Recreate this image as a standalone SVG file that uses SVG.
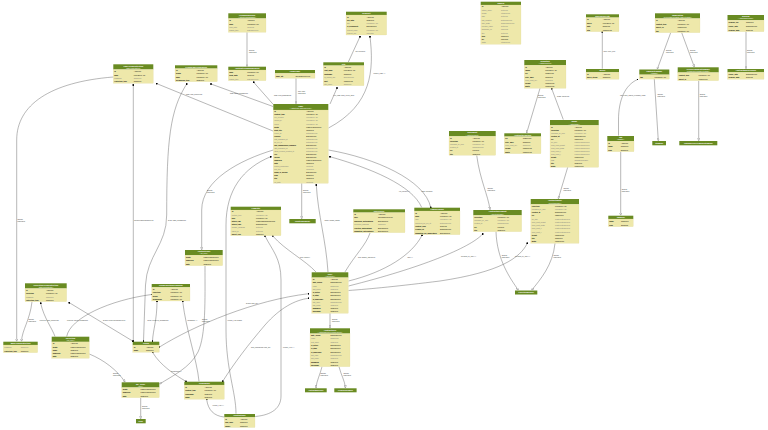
<svg xmlns="http://www.w3.org/2000/svg" width="768" height="430" viewBox="0 0 768 430">
<defs>
<style>
text{font-family:"Liberation Sans",Arial,sans-serif}
.hd{fill:#698b22}
.bd{fill:#eee8aa;stroke:#ddd59a;stroke-width:0.2}
.ht{font-size:2px;fill:#fff;font-weight:bold;text-anchor:middle}
.hs{font-size:1.45px;fill:#fff;text-anchor:middle}
.c{font-size:1.7px;fill:#000}
.b{font-weight:bold}
.g{fill:#7b7b7b}
.e{fill:none;stroke:#555;stroke-width:0.42}
.lb{font-size:1.55px;fill:#333}
</style>
<marker id="dot" viewBox="0 0 4 4" refX="2" refY="2" markerWidth="1.9" markerHeight="1.9" markerUnits="userSpaceOnUse"><circle cx="2" cy="2" r="2" fill="#000"/></marker>
<marker id="arr" viewBox="0 0 10 10" refX="9.5" refY="5" markerWidth="2.6" markerHeight="2.6" markerUnits="userSpaceOnUse" orient="auto"><path d="M0.5,0.8 L9.5,5 L0.5,9.2 z" fill="#fff" stroke="#555" stroke-width="1.2"/></marker>
</defs>
<rect width="768" height="430" fill="#fff"/>

<g id="connectors">
<path class="e" d="M247,32.3 L247,66.4" marker-end="url(#arr)"/>
<text class="lb" x="249" y="50.5">abstract<tspan x="249" dy="2.1">inheritance</tspan></text>
<path class="e" d="M156.7,83.6 L273,131" marker-start="url(#dot)"/>
<text class="lb" x="186" y="95.2">page (view_restrictions)</text>
<path class="e" d="M211,84 L273,106.5" marker-start="url(#dot)"/>
<text class="lb" x="230" y="93.6">page (group_permissions)</text>
<path class="e" d="M253.7,82.3 L273.3,104.5" marker-start="url(#dot)"/>
<text class="lb" x="274" y="95.8">page (form_submissions)</text>
<path class="e" d="M296,78.3 L296,103.6" marker-end="url(#arr)"/>
<text class="lb" x="298" y="91.5">multi-table<tspan x="298" dy="2.1">inheritance</tspan></text>
<path class="e" d="M337,88 L330,104" marker-start="url(#dot)"/>
<text class="lb" x="333.5" y="96.2">root_page (sites_rooted_here)</text>
<path class="e" d="M360,36.7 L348.3,62" marker-start="url(#dot)"/>
<text class="lb" x="355.5" y="51.5">site (redirects)</text>
<path class="e" d="M370,36.7 C374,70 372,105 328.5,128" marker-start="url(#dot)"/>
<text class="lb" x="373.5" y="74">redirect_page (+)</text>
<path class="e" d="M113.3,77 C50,82 16.7,105 16.7,140 L16.7,341.3" marker-end="url(#arr)"/>
<text class="lb" x="17.5" y="219.5">abstract<tspan x="17.5" dy="2.1">inheritance</tspan></text>
<path class="e" d="M133.3,85 L133.3,341.2" marker-start="url(#dot)" marker-end="url(#dot)"/>
<text class="lb" x="134.2" y="220.5">groups (pageviewrestriction)</text>
<path class="e" d="M186.7,84 C170,110 166.7,140 166.7,215 C166.7,245 147,255 145.5,285 L143.5,341.2" marker-start="url(#dot)" marker-end="url(#dot)"/>
<text class="lb" x="168" y="220.5">group (page_permissions)</text>
<path class="e" d="M32,301.7 C30,320 22,330 21.5,341.3" marker-end="url(#arr)"/>
<text class="lb" x="28.5" y="319.7">abstract<tspan x="28.5" dy="2.1">inheritance</tspan></text>
<path class="e" d="M40.7,303.3 C44,318 52,328 55,336.5" marker-start="url(#dot)"/>
<text class="lb" x="39.5" y="320.8">collection (view_restrictions)</text>
<path class="e" d="M151.5,294.5 C110,300 70,318 66.7,336.5" marker-start="url(#dot)"/>
<text class="lb" x="67" y="320.8">collection (group_permissions)</text>
<path class="e" d="M69.3,302.7 L132.9,341.2" marker-start="url(#dot)" marker-end="url(#dot)"/>
<text class="lb" x="103" y="320.8">groups (collectionviewrestriction)</text>
<path class="e" d="M157,301.5 C157,320 153,330 152.5,341.2" marker-start="url(#dot)" marker-end="url(#dot)"/>
<text class="lb" x="147.5" y="320.8">group (collection_permissions)</text>
<path class="e" d="M182.7,301.5 C186,330 197,360 199,381.3" marker-start="url(#dot)"/>
<text class="lb" x="187.5" y="320.8">permission (+)</text>
<path class="e" d="M205,265.9 C205,300 206,335 198,352 C190,368 172,376 159.7,384" marker-end="url(#arr)"/>
<text class="lb" x="202" y="319.7">abstract<tspan x="202" dy="2.1">inheritance</tspan></text>
<path class="e" d="M89.3,354 C104,360 117,370 125,382" marker-end="url(#arr)"/>
<text class="lb" x="113" y="374">abstract<tspan x="113" dy="2.1">inheritance</tspan></text>
<path class="e" d="M140.7,397.7 L140.7,418.7" marker-end="url(#arr)"/>
<text class="lb" x="142" y="406.5">abstract<tspan x="142" dy="2.1">inheritance</tspan></text>
<path class="e" d="M152.7,352.5 C160,365 175,375 186,381.4" marker-start="url(#dot)" marker-end="url(#dot)"/>
<text class="lb" x="171" y="371.5">permissions (+)</text>
<path class="e" d="M159.5,347 C195,325 255,300 308.5,293.7" marker-start="url(#dot)" marker-end="url(#dot)"/>
<text class="lb" x="246" y="304.3">groups (user_set)</text>
<path class="e" d="M222.7,381.3 C235,362 248,345 265,325 C280,308 295,300 308.5,298.3" marker-start="url(#dot)" marker-end="url(#dot)"/>
<text class="lb" x="251" y="347.5">user_permissions (user_set)</text>
<path class="e" d="M206.7,399.5 C208,410 214,416 224.1,417" marker-start="url(#dot)"/>
<text class="lb" x="212.5" y="406">content_type (+)</text>
<path class="e" d="M265,236 C272,250 281,258 281,280 L281,396 C281,408 272,415 255.2,416.5" marker-start="url(#dot)"/>
<text class="lb" x="283" y="347.5">content_type (+)</text>
<path class="e" d="M270.7,156.7 C243,168 226,190 226,225 L226,330 C226,370 236,392 236,413.7" marker-start="url(#dot)"/>
<text class="lb" x="227.5" y="320.8">content_type (pages)</text>
<path class="e" d="M272.7,235.9 C285,250 305,260 316,272" marker-start="url(#dot)"/>
<text class="lb" x="300" y="257.7">user (logentry)</text>
<path class="e" d="M316.3,185 C318,215 326,240 328,272" marker-start="url(#dot)"/>
<text class="lb" x="324.5" y="221">owner (owned_pages)</text>
<path class="e" d="M301.7,183.3 L301.7,218.7" marker-end="url(#arr)"/>
<text class="lb" x="303" y="190.5">abstract<tspan x="303" dy="2.1">inheritance</tspan></text>
<path class="e" d="M273.3,150 C240,160 201.7,180 201.7,210 L201.7,249.7" marker-end="url(#arr)"/>
<text class="lb" x="207" y="191">abstract<tspan x="207" dy="2.1">inheritance</tspan></text>
<path class="e" d="M330,156.7 C370,168 412,185 421.7,207.4" marker-start="url(#dot)"/>
<text class="lb" x="399" y="191.7">live_revision (+)</text>
<path class="e" d="M430.7,207.4 C425,180 375,158 328.5,150" marker-start="url(#dot)"/>
<text class="lb" x="421.5" y="191.7">page (revisions)</text>
<path class="e" d="M345,271.9 C355,255 366,245 370,233"/>
<text class="lb" x="358" y="257.7">user (wagtail_userprofile)</text>
<path class="e" d="M422,235.3 C412,255 385,272 348.5,281" marker-start="url(#dot)"/>
<text class="lb" x="407.5" y="257.7">user (+)</text>
<path class="e" d="M482.7,234 C470,248 420,268 348.5,286" marker-start="url(#dot)"/>
<text class="lb" x="461" y="257.3">uploaded_by_user (+)</text>
<path class="e" d="M527.3,243.3 C520,258 500,272 440,281 C400,286 370,289 348.5,290.5" marker-start="url(#dot)"/>
<text class="lb" x="515" y="257.3">uploaded_by_user (+)</text>
<path class="e" d="M330,313.3 L330,327.9" marker-end="url(#arr)"/>
<text class="lb" x="332" y="319.8">abstract<tspan x="332" dy="2.1">inheritance</tspan></text>
<path class="e" d="M322,366.7 C320,375 316.5,381 316,387.9" marker-end="url(#arr)"/>
<text class="lb" x="320.5" y="373.5">abstract<tspan x="320.5" dy="2.1">inheritance</tspan></text>
<path class="e" d="M339,366.7 C341,375 345,381 345.4,387.9" marker-end="url(#arr)"/>
<text class="lb" x="343.5" y="373.5">abstract<tspan x="343.5" dy="2.1">inheritance</tspan></text>
<path class="e" d="M476.7,155.3 C480,180 488,195 490,209.6" marker-end="url(#arr)"/>
<text class="lb" x="487.5" y="188.8">abstract<tspan x="487.5" dy="2.1">inheritance</tspan></text>
<path class="e" d="M496,231.7 C497,260 510,278 518.3,290.1" marker-end="url(#arr)"/>
<text class="lb" x="501.7" y="256">abstract<tspan x="501.7" dy="2.1">inheritance</tspan></text>
<path class="e" d="M555,243.3 C553,265 540,280 531.7,290.1" marker-end="url(#arr)"/>
<text class="lb" x="553.5" y="256">abstract<tspan x="553.5" dy="2.1">inheritance</tspan></text>
<path class="e" d="M567.7,167.3 L558.3,198.6" marker-end="url(#arr)"/>
<text class="lb" x="563.5" y="189">abstract<tspan x="563.5" dy="2.1">inheritance</tspan></text>
<path class="e" d="M540,88.3 L526.7,132.9" marker-end="url(#arr)"/>
<text class="lb" x="538" y="96">abstract<tspan x="538" dy="2.1">inheritance</tspan></text>
<path class="e" d="M551.7,88.6 L563.3,119.6" marker-start="url(#dot)"/>
<text class="lb" x="557" y="97">image (renditions)</text>
<path class="e" d="M602.3,31.9 L602.3,68.7" marker-start="url(#dot)"/>
<text class="lb" x="603.5" y="52">query (daily_hits)</text>
<path class="e" d="M670.7,32.7 L657.3,69.1" marker-end="url(#arr)"/>
<text class="lb" x="666" y="50.5">abstract<tspan x="666" dy="2.1">inheritance</tspan></text>
<path class="e" d="M681.7,32.7 L694.3,66.9" marker-end="url(#arr)"/>
<text class="lb" x="690" y="50.5">abstract<tspan x="690" dy="2.1">inheritance</tspan></text>
<path class="e" d="M746,31.7 L746,68.6" marker-end="url(#arr)"/>
<text class="lb" x="747" y="50.5">abstract<tspan x="747" dy="2.1">inheritance</tspan></text>
<path class="e" d="M637.5,79.5 C625,85 618.5,100 618.5,120 L618.5,135.6" marker-start="url(#dot)"/>
<text class="lb" x="620" y="95.5">tag (%(app_label)s_%(class)s_items)</text>
<path class="e" d="M654.3,79.1 L658.3,140.6" marker-end="url(#arr)"/>
<text class="lb" x="657.5" y="94.5">abstract<tspan x="657.5" dy="2.1">inheritance</tspan></text>
<path class="e" d="M698.7,80.7 L698.7,140.6" marker-end="url(#arr)"/>
<text class="lb" x="699.7" y="94.5">abstract<tspan x="699.7" dy="2.1">inheritance</tspan></text>
<path class="e" d="M620.7,151.7 L620.7,215.3" marker-end="url(#arr)"/>
<text class="lb" x="621.7" y="189.5">abstract<tspan x="621.7" dy="2.1">inheritance</tspan></text>
</g>

<g id="n-formsubmission">
<rect class="hd" x="228.3" y="13.3" width="37.7" height="5.2"/><rect class="bd" x="228.3" y="18.5" width="37.7" height="13.8"/>
<text class="ht" x="247.15" y="15.5">FormSubmission</text><text class="hs" x="247.15" y="17.7">&lt;AbstractFormSubmission&gt;</text>
<text class="c" y="21.1"><tspan x="229.3" class="b">id</tspan><tspan x="229.3" dy="3.45" class="b">page</tspan><tspan x="229.3" dy="3.45" class="g">form_data</tspan><tspan x="229.3" dy="3.45" class="g">submit_time</tspan></text>
<text class="c" y="21.1"><tspan x="247.2">AutoField</tspan><tspan x="247.2" dy="3.45">ForeignKey (id)</tspan><tspan x="247.2" dy="3.45" class="g">TextField</tspan><tspan x="247.2" dy="3.45" class="g">DateTimeField</tspan></text>
</g>
<g id="n-abstractformsubmission">
<rect class="hd" x="228.3" y="66.7" width="37.7" height="3.3"/><rect class="bd" x="228.3" y="70" width="37.7" height="10.7"/>
<text class="ht" x="247.15" y="69">AbstractFormSubmission</text>
<text class="c" y="72.7"><tspan x="229.3" class="b">page</tspan><tspan x="229.3" dy="3.57" class="b">form_data</tspan><tspan x="229.3" dy="3.57" class="g">submit_time</tspan></text>
<text class="c" y="72.7"><tspan x="247.2">ForeignKey (id)</tspan><tspan x="247.2" dy="3.57">TextField</tspan><tspan x="247.2" dy="3.57" class="g">DateTimeField</tspan></text>
</g>
<g id="n-pageviewrestriction">
<rect class="hd" x="113.3" y="64.3" width="40" height="5.2"/><rect class="bd" x="113.3" y="69.5" width="40" height="13.8"/>
<text class="ht" x="133.3" y="66.5">PageViewRestriction</text><text class="hs" x="133.3" y="68.7">&lt;BaseViewRestriction&gt;</text>
<text class="c" y="72.1"><tspan x="114.3" class="b">id</tspan><tspan x="114.3" dy="3.45" class="b">page</tspan><tspan x="114.3" dy="3.45" class="g">password</tspan><tspan x="114.3" dy="3.45" class="b">restriction_type</tspan></text>
<text class="c" y="72.1"><tspan x="133.8">AutoField</tspan><tspan x="133.8" dy="3.45">ForeignKey (id)</tspan><tspan x="133.8" dy="3.45" class="g">CharField</tspan><tspan x="133.8" dy="3.45">CharField</tspan></text>
</g>
<g id="n-grouppagepermission">
<rect class="hd" x="175" y="65.3" width="42.3" height="3.3"/><rect class="bd" x="175" y="68.6" width="42.3" height="13.1"/>
<text class="ht" x="196.15" y="67.6">GroupPagePermission</text>
<text class="c" y="71.06"><tspan x="176" class="b">id</tspan><tspan x="176" dy="3.275" class="b">group</tspan><tspan x="176" dy="3.275" class="b">page</tspan><tspan x="176" dy="3.275" class="b">permission_type</tspan></text>
<text class="c" y="71.06"><tspan x="196.5">AutoField</tspan><tspan x="196.5" dy="3.275">ForeignKey (id)</tspan><tspan x="196.5" dy="3.275">ForeignKey (id)</tspan><tspan x="196.5" dy="3.275">CharField</tspan></text>
</g>
<g id="n-homepage">
<rect class="hd" x="275" y="70" width="40" height="3.3"/><rect class="bd" x="275" y="73.3" width="40" height="5"/>
<text class="ht" x="295" y="72.3">HomePage</text>
<text class="c b" x="276" y="76.6">page_ptr</text><text class="c" x="295.5" y="76.6">OneToOneField (id)</text>
</g>
<g id="n-redirect">
<rect class="hd" x="346" y="11.7" width="40.7" height="3.3"/><rect class="bd" x="346" y="15" width="40.7" height="20"/>
<text class="ht" x="366.35" y="14">Redirect</text>
<text class="c" y="17.5"><tspan x="347" class="b">id</tspan><tspan x="347" dy="3.33" class="b">old_path</tspan><tspan x="347" dy="3.33" class="g">site</tspan><tspan x="347" dy="3.33" class="b">is_permanent</tspan><tspan x="347" dy="3.33" class="g">redirect_page</tspan><tspan x="347" dy="3.33" class="g">redirect_link</tspan></text>
<text class="c" y="17.5"><tspan x="366.5">AutoField</tspan><tspan x="366.5" dy="3.33">CharField</tspan><tspan x="366.5" dy="3.33" class="g">ForeignKey (id)</tspan><tspan x="366.5" dy="3.33">BooleanField</tspan><tspan x="366.5" dy="3.33" class="g">ForeignKey (id)</tspan><tspan x="366.5" dy="3.33" class="g">URLField</tspan></text>
</g>
<g id="n-site">
<rect class="hd" x="323.3" y="62.3" width="40.7" height="3.3"/><rect class="bd" x="323.3" y="65.6" width="40.7" height="20.1"/>
<text class="ht" x="343.65" y="64.6">Site</text>
<text class="c" y="68.1"><tspan x="324.3" class="b">id</tspan><tspan x="324.3" dy="3.35" class="b">root_page</tspan><tspan x="324.3" dy="3.35" class="b">hostname</tspan><tspan x="324.3" dy="3.35" class="g">is_default_site</tspan><tspan x="324.3" dy="3.35" class="b">port</tspan><tspan x="324.3" dy="3.35" class="g">site_name</tspan></text>
<text class="c" y="68.1"><tspan x="343.8">AutoField</tspan><tspan x="343.8" dy="3.35">ForeignKey (id)</tspan><tspan x="343.8" dy="3.35">CharField</tspan><tspan x="343.8" dy="3.35" class="g">BooleanField</tspan><tspan x="343.8" dy="3.35">IntegerField</tspan><tspan x="343.8" dy="3.35" class="g">CharField</tspan></text>
</g>
<g id="n-embed">
<rect class="hd" x="480.7" y="1.7" width="40.3" height="3.3"/><rect class="bd" x="480.7" y="5" width="40.3" height="39.3"/>
<text class="ht" x="500.85" y="4">Embed</text>
<text class="c" y="7.46"><tspan x="481.7" class="b">id</tspan><tspan x="481.7" dy="3.275" class="g">author_name</tspan><tspan x="481.7" dy="3.275" class="g">height</tspan><tspan x="481.7" dy="3.275" class="g">html</tspan><tspan x="481.7" dy="3.275" class="g">last_updated</tspan><tspan x="481.7" dy="3.275" class="g">max_width</tspan><tspan x="481.7" dy="3.275" class="g">provider_name</tspan><tspan x="481.7" dy="3.275" class="g">thumbnail_url</tspan><tspan x="481.7" dy="3.275" class="g">title</tspan><tspan x="481.7" dy="3.275" class="b">type</tspan><tspan x="481.7" dy="3.275" class="b">url</tspan><tspan x="481.7" dy="3.275" class="g">width</tspan></text>
<text class="c" y="7.46"><tspan x="501">AutoField</tspan><tspan x="501" dy="3.275" class="g">TextField</tspan><tspan x="501" dy="3.275" class="g">IntegerField</tspan><tspan x="501" dy="3.275" class="g">TextField</tspan><tspan x="501" dy="3.275" class="g">DateTimeField</tspan><tspan x="501" dy="3.275" class="g">SmallIntegerField</tspan><tspan x="501" dy="3.275" class="g">TextField</tspan><tspan x="501" dy="3.275" class="g">URLField</tspan><tspan x="501" dy="3.275" class="g">TextField</tspan><tspan x="501" dy="3.275">CharField</tspan><tspan x="501" dy="3.275">URLField</tspan><tspan x="501" dy="3.275" class="g">IntegerField</tspan></text>
</g>
<g id="n-querydailyhits">
<rect class="hd" x="586" y="14.3" width="33" height="3.3"/><rect class="bd" x="586" y="17.6" width="33" height="14.1"/>
<text class="ht" x="602.5" y="16.6">QueryDailyHits</text>
<text class="c" y="20.24"><tspan x="587" class="b">id</tspan><tspan x="587" dy="3.525" class="b">query</tspan><tspan x="587" dy="3.525" class="b">date</tspan><tspan x="587" dy="3.525" class="b">hits</tspan></text>
<text class="c" y="20.24"><tspan x="602.8">AutoField</tspan><tspan x="602.8" dy="3.525">ForeignKey (id)</tspan><tspan x="602.8" dy="3.525">DateField</tspan><tspan x="602.8" dy="3.525">IntegerField</tspan></text>
</g>
<g id="n-query">
<rect class="hd" x="586" y="69" width="33" height="3.3"/><rect class="bd" x="586" y="72.3" width="33" height="7"/>
<text class="ht" x="602.5" y="71.3">Query</text>
<text class="c" y="74.9"><tspan x="587" class="b">id</tspan><tspan x="587" dy="3.5" class="b">query_string</tspan></text>
<text class="c" y="74.9"><tspan x="602.8">AutoField</tspan><tspan x="602.8" dy="3.5">CharField</tspan></text>
</g>
<g id="n-taggeditem">
<rect class="hd" x="655" y="13.3" width="45" height="5.2"/><rect class="bd" x="655" y="18.5" width="45" height="14.2"/>
<text class="ht" x="677.5" y="15.5">TaggedItem</text><text class="hs" x="677.5" y="17.7">&lt;GenericTaggedItemBase,TaggedItemBase&gt;</text>
<text class="c" y="21.16"><tspan x="656" class="b">id</tspan><tspan x="656" dy="3.55" class="b">content_type</tspan><tspan x="656" dy="3.55" class="b">object_id</tspan><tspan x="656" dy="3.55" class="b">tag</tspan></text>
<text class="c" y="21.16"><tspan x="677.5">AutoField</tspan><tspan x="677.5" dy="3.55">ForeignKey (id)</tspan><tspan x="677.5" dy="3.55">IntegerField</tspan><tspan x="677.5" dy="3.55">ForeignKey (id)</tspan></text>
</g>
<g id="n-taggeditembase">
<rect class="hd" x="639.3" y="69.5" width="30" height="5.2"/><rect class="bd" x="639.3" y="74.7" width="30" height="4.4"/>
<text class="ht" x="654.3" y="71.7">TaggedItemBase</text><text class="hs" x="654.3" y="73.9">&lt;ItemBase&gt;</text>
<text class="c b" x="640.3" y="77.9">tag</text><text class="c" x="654.5" y="77.9">ForeignKey (id)</text>
</g>
<g id="n-generictaggeditembase">
<rect class="hd" x="677.7" y="67.3" width="41" height="5.2"/><rect class="bd" x="677.7" y="72.5" width="41" height="8.2"/>
<text class="ht" x="698.2" y="69.5">GenericTaggedItemBase</text><text class="hs" x="698.2" y="71.7">&lt;CommonGenericTaggedItemBase&gt;</text>
<text class="c" y="75.6"><tspan x="678.7" class="b">content_type</tspan><tspan x="678.7" dy="4.1" class="b">object_id</tspan></text>
<text class="c" y="75.6"><tspan x="698.5">ForeignKey (id)</tspan><tspan x="698.5" dy="4.1">IntegerField</tspan></text>
</g>
<g id="n-session">
<rect class="hd" x="727.5" y="15" width="36.5" height="5.2"/><rect class="bd" x="727.5" y="20.2" width="36.5" height="11.5"/>
<text class="ht" x="745.75" y="17.2">Session</text><text class="hs" x="745.75" y="19.4">&lt;AbstractBaseSession&gt;</text>
<text class="c" y="23.1"><tspan x="728.5" class="b">session_key</tspan><tspan x="728.5" dy="3.83" class="b">expire_date</tspan><tspan x="728.5" dy="3.83" class="b">session_data</tspan></text>
<text class="c" y="23.1"><tspan x="746">CharField</tspan><tspan x="746" dy="3.83">DateTimeField</tspan><tspan x="746" dy="3.83">TextField</tspan></text>
</g>
<g id="n-abstractbasesession">
<rect class="hd" x="727.5" y="69" width="36.5" height="3.3"/><rect class="bd" x="727.5" y="72.3" width="36.5" height="7"/>
<text class="ht" x="745.75" y="71.3">AbstractBaseSession</text>
<text class="c" y="74.9"><tspan x="728.5" class="b">expire_date</tspan><tspan x="728.5" dy="3.5" class="b">session_data</tspan></text>
<text class="c" y="74.9"><tspan x="746">DateTimeField</tspan><tspan x="746" dy="3.5">TextField</tspan></text>
</g>
<g id="n-itembase">
<rect class="hd" x="652.3" y="141" width="13.7" height="4.3"/><text class="ht" x="659.15" y="143.9" style="font-size:1.8px">ItemBase</text>
</g>
<g id="n-commongenerictaggeditembase">
<rect class="hd" x="679.3" y="141" width="38" height="4.3"/><text class="ht" x="698.3" y="143.9" style="font-size:1.8px">CommonGenericTaggedItemBase</text>
</g>
<g id="n-tag">
<rect class="hd" x="607.3" y="136" width="26.7" height="5.2"/><rect class="bd" x="607.3" y="141.2" width="26.7" height="10.5"/>
<text class="ht" x="620.65" y="138.2">Tag</text><text class="hs" x="620.65" y="140.4">&lt;TagBase&gt;</text>
<text class="c" y="143.8"><tspan x="608.3" class="b">id</tspan><tspan x="608.3" dy="3.5" class="b">name</tspan><tspan x="608.3" dy="3.5" class="b">slug</tspan></text>
<text class="c" y="143.8"><tspan x="620.8">AutoField</tspan><tspan x="620.8" dy="3.5">CharField</tspan><tspan x="620.8" dy="3.5">SlugField</tspan></text>
</g>
<g id="n-tagbase">
<rect class="hd" x="608.3" y="215.7" width="25" height="3.3"/><rect class="bd" x="608.3" y="219" width="25" height="7.7"/>
<text class="ht" x="620.8" y="218">TagBase</text>
<text class="c" y="221.9"><tspan x="609.3" class="b">name</tspan><tspan x="609.3" dy="3.85" class="b">slug</tspan></text>
<text class="c" y="221.9"><tspan x="621">CharField</tspan><tspan x="621" dy="3.85">SlugField</tspan></text>
</g>
<g id="n-rendition">
<rect class="hd" x="524.3" y="60" width="41.7" height="5.2"/><rect class="bd" x="524.3" y="65.2" width="41.7" height="23.1"/>
<text class="ht" x="545.15" y="62.2">Rendition</text><text class="hs" x="545.15" y="64.4">&lt;AbstractRendition&gt;</text>
<text class="c" y="67.67"><tspan x="525.3" class="b">id</tspan><tspan x="525.3" dy="3.3" class="b">image</tspan><tspan x="525.3" dy="3.3" class="b">file</tspan><tspan x="525.3" dy="3.3" class="b">filter_spec</tspan><tspan x="525.3" dy="3.3" class="g">focal_point_key</tspan><tspan x="525.3" dy="3.3" class="b">height</tspan><tspan x="525.3" dy="3.3" class="b">width</tspan></text>
<text class="c" y="67.67"><tspan x="545.3">AutoField</tspan><tspan x="545.3" dy="3.3">ForeignKey (id)</tspan><tspan x="545.3" dy="3.3">ImageField</tspan><tspan x="545.3" dy="3.3">CharField</tspan><tspan x="545.3" dy="3.3" class="g">CharField</tspan><tspan x="545.3" dy="3.3">IntegerField</tspan><tspan x="545.3" dy="3.3">IntegerField</tspan></text>
</g>
<g id="n-abstractrendition">
<rect class="hd" x="504.3" y="133.3" width="36.7" height="3.3"/><rect class="bd" x="504.3" y="136.6" width="36.7" height="17.1"/>
<text class="ht" x="522.65" y="135.6">AbstractRendition</text>
<text class="c" y="139.16"><tspan x="505.3" class="b">file</tspan><tspan x="505.3" dy="3.42" class="b">filter_spec</tspan><tspan x="505.3" dy="3.42" class="g">focal_point_key</tspan><tspan x="505.3" dy="3.42" class="b">height</tspan><tspan x="505.3" dy="3.42" class="b">width</tspan></text>
<text class="c" y="139.16"><tspan x="522.8">ImageField</tspan><tspan x="522.8" dy="3.42">CharField</tspan><tspan x="522.8" dy="3.42" class="g">CharField</tspan><tspan x="522.8" dy="3.42">IntegerField</tspan><tspan x="522.8" dy="3.42">IntegerField</tspan></text>
</g>
<g id="n-image">
<rect class="hd" x="550" y="120" width="48.7" height="5.3"/><rect class="bd" x="550" y="125.3" width="48.7" height="42"/>
<text class="ht" x="574.35" y="122.2">Image</text><text class="hs" x="574.35" y="124.5">&lt;AbstractImage&gt;</text>
<text class="c" y="127.55"><tspan x="551" class="b">id</tspan><tspan x="551" dy="3" class="b">collection</tspan><tspan x="551" dy="3" class="g">uploaded_by_user</tspan><tspan x="551" dy="3" class="b">created_at</tspan><tspan x="551" dy="3" class="b">file</tspan><tspan x="551" dy="3" class="g">file_size</tspan><tspan x="551" dy="3" class="g">focal_point_height</tspan><tspan x="551" dy="3" class="g">focal_point_width</tspan><tspan x="551" dy="3" class="g">focal_point_x</tspan><tspan x="551" dy="3" class="g">focal_point_y</tspan><tspan x="551" dy="3" class="b">height</tspan><tspan x="551" dy="3" class="g">tags</tspan><tspan x="551" dy="3" class="b">title</tspan><tspan x="551" dy="3" class="b">width</tspan></text>
<text class="c" y="127.55"><tspan x="574.5">AutoField</tspan><tspan x="574.5" dy="3">ForeignKey (id)</tspan><tspan x="574.5" dy="3" class="g">ForeignKey (id)</tspan><tspan x="574.5" dy="3">DateTimeField</tspan><tspan x="574.5" dy="3">ImageField</tspan><tspan x="574.5" dy="3" class="g">PositiveIntegerField</tspan><tspan x="574.5" dy="3" class="g">PositiveIntegerField</tspan><tspan x="574.5" dy="3" class="g">PositiveIntegerField</tspan><tspan x="574.5" dy="3" class="g">PositiveIntegerField</tspan><tspan x="574.5" dy="3" class="g">PositiveIntegerField</tspan><tspan x="574.5" dy="3">IntegerField</tspan><tspan x="574.5" dy="3" class="g">TaggableManager</tspan><tspan x="574.5" dy="3">CharField</tspan><tspan x="574.5" dy="3">IntegerField</tspan></text>
</g>
<g id="n-document">
<rect class="hd" x="449" y="131" width="46.7" height="5.3"/><rect class="bd" x="449" y="136.3" width="46.7" height="19"/>
<text class="ht" x="472.35" y="133.2">Document</text><text class="hs" x="472.35" y="135.5">&lt;AbstractDocument&gt;</text>
<text class="c" y="138.67"><tspan x="450" class="b">id</tspan><tspan x="450" dy="3.17" class="b">collection</tspan><tspan x="450" dy="3.17" class="g">uploaded_by_user</tspan><tspan x="450" dy="3.17" class="g">created_at</tspan><tspan x="450" dy="3.17" class="b">file</tspan><tspan x="450" dy="3.17" class="b">title</tspan></text>
<text class="c" y="138.67"><tspan x="472.5">AutoField</tspan><tspan x="472.5" dy="3.17">ForeignKey (id)</tspan><tspan x="472.5" dy="3.17" class="g">ForeignKey (id)</tspan><tspan x="472.5" dy="3.17" class="g">DateTimeField</tspan><tspan x="472.5" dy="3.17">FileField</tspan><tspan x="472.5" dy="3.17">CharField</tspan></text>
</g>
<g id="n-abstractdocument">
<rect class="hd" x="473.3" y="210" width="48.4" height="5.3"/><rect class="bd" x="473.3" y="215.3" width="48.4" height="16.4"/>
<text class="ht" x="497.5" y="212.2">AbstractDocument</text><text class="hs" x="497.5" y="214.5">&lt;CollectionMember&gt;</text>
<text class="c" y="217.76"><tspan x="474.3" class="b">collection</tspan><tspan x="474.3" dy="3.28" class="g">uploaded_by_user</tspan><tspan x="474.3" dy="3.28" class="g">created_at</tspan><tspan x="474.3" dy="3.28" class="b">file</tspan><tspan x="474.3" dy="3.28" class="b">title</tspan></text>
<text class="c" y="217.76"><tspan x="497.5">ForeignKey (id)</tspan><tspan x="497.5" dy="3.28" class="g">ForeignKey (id)</tspan><tspan x="497.5" dy="3.28" class="g">DateTimeField</tspan><tspan x="497.5" dy="3.28">FileField</tspan><tspan x="497.5" dy="3.28">CharField</tspan></text>
</g>
<g id="n-abstractimage">
<rect class="hd" x="530.7" y="199" width="48.3" height="5.3"/><rect class="bd" x="530.7" y="204.3" width="48.3" height="39"/>
<text class="ht" x="554.85" y="201.2">AbstractImage</text><text class="hs" x="554.85" y="203.5">&lt;CollectionMember&gt;</text>
<text class="c" y="206.74"><tspan x="531.7" class="b">collection</tspan><tspan x="531.7" dy="3.25" class="g">uploaded_by_user</tspan><tspan x="531.7" dy="3.25" class="b">created_at</tspan><tspan x="531.7" dy="3.25" class="b">file</tspan><tspan x="531.7" dy="3.25" class="g">file_size</tspan><tspan x="531.7" dy="3.25" class="g">focal_point_height</tspan><tspan x="531.7" dy="3.25" class="g">focal_point_width</tspan><tspan x="531.7" dy="3.25" class="g">focal_point_x</tspan><tspan x="531.7" dy="3.25" class="g">focal_point_y</tspan><tspan x="531.7" dy="3.25" class="b">height</tspan><tspan x="531.7" dy="3.25" class="b">title</tspan><tspan x="531.7" dy="3.25" class="b">width</tspan></text>
<text class="c" y="206.74"><tspan x="555">ForeignKey (id)</tspan><tspan x="555" dy="3.25" class="g">ForeignKey (id)</tspan><tspan x="555" dy="3.25">DateTimeField</tspan><tspan x="555" dy="3.25">ImageField</tspan><tspan x="555" dy="3.25" class="g">PositiveIntegerField</tspan><tspan x="555" dy="3.25" class="g">PositiveIntegerField</tspan><tspan x="555" dy="3.25" class="g">PositiveIntegerField</tspan><tspan x="555" dy="3.25" class="g">PositiveIntegerField</tspan><tspan x="555" dy="3.25" class="g">PositiveIntegerField</tspan><tspan x="555" dy="3.25">IntegerField</tspan><tspan x="555" dy="3.25">CharField</tspan><tspan x="555" dy="3.25">IntegerField</tspan></text>
</g>
<g id="n-collectionmember">
<rect class="hd" x="515" y="290.5" width="22.3" height="4"/><text class="ht" x="526.15" y="293.2" style="font-size:1.8px">CollectionMember</text>
</g>
<g id="n-page">
<rect class="hd" x="273.3" y="104" width="55" height="6"/><rect class="bd" x="273.3" y="110" width="55" height="73.3"/>
<text class="ht" x="300.8" y="106.5">Page</text><text class="hs" x="300.8" y="108.9">&lt;AbstractPage,ClusterableModel&gt;</text>
<text class="c" y="112.29"><tspan x="274.3" class="b">id</tspan><tspan x="274.3" dy="3.054" class="b">content_type</tspan><tspan x="274.3" dy="3.054" class="g">live_revision</tspan><tspan x="274.3" dy="3.054" class="g">locked_by</tspan><tspan x="274.3" dy="3.054" class="g">owner</tspan><tspan x="274.3" dy="3.054" class="b">depth</tspan><tspan x="274.3" dy="3.054" class="b">draft_title</tspan><tspan x="274.3" dy="3.054" class="g">expire_at</tspan><tspan x="274.3" dy="3.054" class="b">expired</tspan><tspan x="274.3" dy="3.054" class="g">first_published_at</tspan><tspan x="274.3" dy="3.054" class="g">go_live_at</tspan><tspan x="274.3" dy="3.054" class="b">has_unpublished_changes</tspan><tspan x="274.3" dy="3.054" class="g">last_published_at</tspan><tspan x="274.3" dy="3.054" class="g">latest_revision_created_at</tspan><tspan x="274.3" dy="3.054" class="b">live</tspan><tspan x="274.3" dy="3.054" class="b">locked</tspan><tspan x="274.3" dy="3.054" class="b">numchild</tspan><tspan x="274.3" dy="3.054" class="b">path</tspan><tspan x="274.3" dy="3.054" class="g">search_description</tspan><tspan x="274.3" dy="3.054" class="g">seo_title</tspan><tspan x="274.3" dy="3.054" class="b">show_in_menus</tspan><tspan x="274.3" dy="3.054" class="b">slug</tspan><tspan x="274.3" dy="3.054" class="b">title</tspan><tspan x="274.3" dy="3.054" class="g">url_path</tspan></text>
<text class="c" y="112.29"><tspan x="306.3">AutoField</tspan><tspan x="306.3" dy="3.054">ForeignKey (id)</tspan><tspan x="306.3" dy="3.054" class="g">ForeignKey (id)</tspan><tspan x="306.3" dy="3.054" class="g">ForeignKey (id)</tspan><tspan x="306.3" dy="3.054" class="g">ForeignKey (id)</tspan><tspan x="306.3" dy="3.054">PositiveIntegerField</tspan><tspan x="306.3" dy="3.054">CharField</tspan><tspan x="306.3" dy="3.054" class="g">DateTimeField</tspan><tspan x="306.3" dy="3.054">BooleanField</tspan><tspan x="306.3" dy="3.054" class="g">DateTimeField</tspan><tspan x="306.3" dy="3.054" class="g">DateTimeField</tspan><tspan x="306.3" dy="3.054">BooleanField</tspan><tspan x="306.3" dy="3.054" class="g">DateTimeField</tspan><tspan x="306.3" dy="3.054" class="g">DateTimeField</tspan><tspan x="306.3" dy="3.054">BooleanField</tspan><tspan x="306.3" dy="3.054">BooleanField</tspan><tspan x="306.3" dy="3.054">PositiveIntegerField</tspan><tspan x="306.3" dy="3.054">CharField</tspan><tspan x="306.3" dy="3.054" class="g">TextField</tspan><tspan x="306.3" dy="3.054" class="g">CharField</tspan><tspan x="306.3" dy="3.054">BooleanField</tspan><tspan x="306.3" dy="3.054">SlugField</tspan><tspan x="306.3" dy="3.054">CharField</tspan><tspan x="306.3" dy="3.054" class="g">TextField</tspan></text>
</g>
<g id="n-clusterablemodel">
<rect class="hd" x="289.3" y="219" width="26.4" height="4.3"/><text class="ht" x="302.5" y="221.9" style="font-size:1.8px">ClusterableModel</text>
</g>
<g id="n-abstractpage">
<rect class="hd" x="185" y="250" width="37.7" height="5.2"/><rect class="bd" x="185" y="255.2" width="37.7" height="10.5"/>
<text class="ht" x="203.85" y="252.2">AbstractPage</text><text class="hs" x="203.85" y="254.4">&lt;MP_Node&gt;</text>
<text class="c" y="257.8"><tspan x="186" class="b">depth</tspan><tspan x="186" dy="3.5" class="b">numchild</tspan><tspan x="186" dy="3.5" class="b">path</tspan></text>
<text class="c" y="257.8"><tspan x="203.5">PositiveIntegerField</tspan><tspan x="203.5" dy="3.5">PositiveIntegerField</tspan><tspan x="203.5" dy="3.5">CharField</tspan></text>
</g>
<g id="n-logentry">
<rect class="hd" x="230.7" y="206.7" width="50.3" height="3.3"/><rect class="bd" x="230.7" y="210" width="50.3" height="25.7"/>
<text class="ht" x="255.85" y="209">LogEntry</text>
<text class="c" y="212.41"><tspan x="231.7" class="b">id</tspan><tspan x="231.7" dy="3.21" class="g">content_type</tspan><tspan x="231.7" dy="3.21" class="b">user</tspan><tspan x="231.7" dy="3.21" class="b">action_flag</tspan><tspan x="231.7" dy="3.21" class="b">action_time</tspan><tspan x="231.7" dy="3.21" class="g">change_message</tspan><tspan x="231.7" dy="3.21" class="g">object_id</tspan><tspan x="231.7" dy="3.21" class="b">object_repr</tspan></text>
<text class="c" y="212.41"><tspan x="256">AutoField</tspan><tspan x="256" dy="3.21" class="g">ForeignKey (id)</tspan><tspan x="256" dy="3.21">ForeignKey (id)</tspan><tspan x="256" dy="3.21">PositiveSmallIntegerField</tspan><tspan x="256" dy="3.21">DateTimeField</tspan><tspan x="256" dy="3.21" class="g">TextField</tspan><tspan x="256" dy="3.21" class="g">TextField</tspan><tspan x="256" dy="3.21">CharField</tspan></text>
</g>
<g id="n-userprofile">
<rect class="hd" x="353.3" y="209.3" width="51.7" height="3.3"/><rect class="bd" x="353.3" y="212.6" width="51.7" height="20.1"/>
<text class="ht" x="379.15" y="211.6">UserProfile</text>
<text class="c" y="215.1"><tspan x="354.3" class="b">id</tspan><tspan x="354.3" dy="3.35" class="b">user</tspan><tspan x="354.3" dy="3.35" class="b">approved_notifications</tspan><tspan x="354.3" dy="3.35" class="g">preferred_language</tspan><tspan x="354.3" dy="3.35" class="b">rejected_notifications</tspan><tspan x="354.3" dy="3.35" class="b">submitted_notifications</tspan></text>
<text class="c" y="215.1"><tspan x="378">AutoField</tspan><tspan x="378" dy="3.35">OneToOneField (id)</tspan><tspan x="378" dy="3.35">BooleanField</tspan><tspan x="378" dy="3.35" class="g">CharField</tspan><tspan x="378" dy="3.35">BooleanField</tspan><tspan x="378" dy="3.35">BooleanField</tspan></text>
</g>
<g id="n-pagerevision">
<rect class="hd" x="414.3" y="207.7" width="45.7" height="3.3"/><rect class="bd" x="414.3" y="211" width="45.7" height="23.7"/>
<text class="ht" x="437.15" y="210">PageRevision</text>
<text class="c" y="213.54"><tspan x="415.3" class="b">id</tspan><tspan x="415.3" dy="3.386" class="b">page</tspan><tspan x="415.3" dy="3.386" class="g">user</tspan><tspan x="415.3" dy="3.386" class="g">approved_go_live_at</tspan><tspan x="415.3" dy="3.386" class="b">content_json</tspan><tspan x="415.3" dy="3.386" class="b">created_at</tspan><tspan x="415.3" dy="3.386" class="b">submitted_for_moderation</tspan></text>
<text class="c" y="213.54"><tspan x="440">AutoField</tspan><tspan x="440" dy="3.386">ForeignKey (id)</tspan><tspan x="440" dy="3.386" class="g">ForeignKey (id)</tspan><tspan x="440" dy="3.386" class="g">DateTimeField</tspan><tspan x="440" dy="3.386">TextField</tspan><tspan x="440" dy="3.386">DateTimeField</tspan><tspan x="440" dy="3.386">BooleanField</tspan></text>
</g>
<g id="n-user">
<rect class="hd" x="311.7" y="272.3" width="36.6" height="5.3"/><rect class="bd" x="311.7" y="277.6" width="36.6" height="35.7"/>
<text class="ht" x="330" y="274.5">User</text><text class="hs" x="330" y="276.8">&lt;AbstractUser&gt;</text>
<text class="c" y="280.03"><tspan x="312.7" class="b">id</tspan><tspan x="312.7" dy="3.245" class="b">date_joined</tspan><tspan x="312.7" dy="3.245" class="g">email</tspan><tspan x="312.7" dy="3.245" class="g">first_name</tspan><tspan x="312.7" dy="3.245" class="b">is_active</tspan><tspan x="312.7" dy="3.245" class="b">is_staff</tspan><tspan x="312.7" dy="3.245" class="b">is_superuser</tspan><tspan x="312.7" dy="3.245" class="g">last_login</tspan><tspan x="312.7" dy="3.245" class="g">last_name</tspan><tspan x="312.7" dy="3.245" class="b">password</tspan><tspan x="312.7" dy="3.245" class="b">username</tspan></text>
<text class="c" y="280.03"><tspan x="330.5">AutoField</tspan><tspan x="330.5" dy="3.245">DateTimeField</tspan><tspan x="330.5" dy="3.245" class="g">EmailField</tspan><tspan x="330.5" dy="3.245" class="g">CharField</tspan><tspan x="330.5" dy="3.245">BooleanField</tspan><tspan x="330.5" dy="3.245">BooleanField</tspan><tspan x="330.5" dy="3.245">BooleanField</tspan><tspan x="330.5" dy="3.245" class="g">DateTimeField</tspan><tspan x="330.5" dy="3.245" class="g">CharField</tspan><tspan x="330.5" dy="3.245">CharField</tspan><tspan x="330.5" dy="3.245">CharField</tspan></text>
</g>
<g id="n-abstractuser">
<rect class="hd" x="310" y="328.3" width="40" height="5.3"/><rect class="bd" x="310" y="333.6" width="40" height="33.1"/>
<text class="ht" x="330" y="330.5">AbstractUser</text><text class="hs" x="330" y="332.8">&lt;AbstractBaseUser,PermissionsMixin&gt;</text>
<text class="c" y="336.08"><tspan x="311" class="b">date_joined</tspan><tspan x="311" dy="3.31" class="g">email</tspan><tspan x="311" dy="3.31" class="g">first_name</tspan><tspan x="311" dy="3.31" class="b">is_active</tspan><tspan x="311" dy="3.31" class="b">is_staff</tspan><tspan x="311" dy="3.31" class="b">is_superuser</tspan><tspan x="311" dy="3.31" class="g">last_login</tspan><tspan x="311" dy="3.31" class="g">last_name</tspan><tspan x="311" dy="3.31" class="b">password</tspan><tspan x="311" dy="3.31" class="b">username</tspan></text>
<text class="c" y="336.08"><tspan x="330.5">DateTimeField</tspan><tspan x="330.5" dy="3.31" class="g">EmailField</tspan><tspan x="330.5" dy="3.31" class="g">CharField</tspan><tspan x="330.5" dy="3.31">BooleanField</tspan><tspan x="330.5" dy="3.31">BooleanField</tspan><tspan x="330.5" dy="3.31">BooleanField</tspan><tspan x="330.5" dy="3.31" class="g">DateTimeField</tspan><tspan x="330.5" dy="3.31" class="g">CharField</tspan><tspan x="330.5" dy="3.31">CharField</tspan><tspan x="330.5" dy="3.31">CharField</tspan></text>
</g>
<g id="n-abstractbaseuser">
<rect class="hd" x="305" y="388.3" width="21.7" height="4"/><text class="ht" x="315.85" y="391" style="font-size:1.75px">AbstractBaseUser</text>
</g>
<g id="n-permissionsmixin">
<rect class="hd" x="334.3" y="388.3" width="22.3" height="4"/><text class="ht" x="345.45" y="391" style="font-size:1.75px">PermissionsMixin</text>
</g>
<g id="n-collectionviewrestriction">
<rect class="hd" x="25" y="283.3" width="41.7" height="5.2"/><rect class="bd" x="25" y="288.5" width="41.7" height="13.2"/>
<text class="ht" x="45.85" y="285.5">CollectionViewRestriction</text><text class="hs" x="45.85" y="287.7">&lt;BaseViewRestriction&gt;</text>
<text class="c" y="290.97"><tspan x="26" class="b">id</tspan><tspan x="26" dy="3.3" class="b">collection</tspan><tspan x="26" dy="3.3" class="g">password</tspan><tspan x="26" dy="3.3" class="b">restriction_type</tspan></text>
<text class="c" y="290.97"><tspan x="46">AutoField</tspan><tspan x="46" dy="3.3">ForeignKey (id)</tspan><tspan x="46" dy="3.3" class="g">CharField</tspan><tspan x="46" dy="3.3">CharField</tspan></text>
</g>
<g id="n-baseviewrestriction">
<rect class="hd" x="3.3" y="341.7" width="34.4" height="3.3"/><rect class="bd" x="3.3" y="345" width="34.4" height="7.7"/>
<text class="ht" x="20.5" y="344">BaseViewRestriction</text>
<text class="c" y="347.9"><tspan x="4.3" class="g">password</tspan><tspan x="4.3" dy="3.85" class="b">restriction_type</tspan></text>
<text class="c" y="347.9"><tspan x="20.8" class="g">CharField</tspan><tspan x="20.8" dy="3.85">CharField</tspan></text>
</g>
<g id="n-collection">
<rect class="hd" x="51.7" y="336.7" width="37.6" height="5.2"/><rect class="bd" x="51.7" y="341.9" width="37.6" height="16.4"/>
<text class="ht" x="70.5" y="338.9">Collection</text><text class="hs" x="70.5" y="341.1">&lt;MP_Node&gt;</text>
<text class="c" y="344.36"><tspan x="52.7" class="b">id</tspan><tspan x="52.7" dy="3.28" class="b">depth</tspan><tspan x="52.7" dy="3.28" class="b">name</tspan><tspan x="52.7" dy="3.28" class="b">numchild</tspan><tspan x="52.7" dy="3.28" class="b">path</tspan></text>
<text class="c" y="344.36"><tspan x="70.5">AutoField</tspan><tspan x="70.5" dy="3.28">PositiveIntegerField</tspan><tspan x="70.5" dy="3.28">CharField</tspan><tspan x="70.5" dy="3.28">PositiveIntegerField</tspan><tspan x="70.5" dy="3.28">CharField</tspan></text>
</g>
<g id="n-groupcollectionpermission">
<rect class="hd" x="151.7" y="284" width="38.3" height="3.3"/><rect class="bd" x="151.7" y="287.3" width="38.3" height="13.7"/>
<text class="ht" x="170.85" y="286.3" style="font-size:1.8px">GroupCollectionPermission</text>
<text class="c" y="289.87"><tspan x="152.7" class="b">id</tspan><tspan x="152.7" dy="3.425" class="b">collection</tspan><tspan x="152.7" dy="3.425" class="b">group</tspan><tspan x="152.7" dy="3.425" class="b">permission</tspan></text>
<text class="c" y="289.87"><tspan x="170.5">AutoField</tspan><tspan x="170.5" dy="3.425">ForeignKey (id)</tspan><tspan x="170.5" dy="3.425">ForeignKey (id)</tspan><tspan x="170.5" dy="3.425">ForeignKey (id)</tspan></text>
</g>
<g id="n-group">
<rect class="hd" x="132.7" y="341.7" width="26.6" height="3.3"/><rect class="bd" x="132.7" y="345" width="26.6" height="7.3"/>
<text class="ht" x="146" y="344">Group</text>
<text class="c" y="347.74"><tspan x="133.7" class="b">id</tspan><tspan x="133.7" dy="3.65" class="b">name</tspan></text>
<text class="c" y="347.74"><tspan x="146">AutoField</tspan><tspan x="146" dy="3.65">CharField</tspan></text>
</g>
<g id="n-mp_node">
<rect class="hd" x="121.7" y="382.3" width="37.6" height="5.2"/><rect class="bd" x="121.7" y="387.5" width="37.6" height="10.2"/>
<text class="ht" x="140.5" y="384.5">MP_Node</text><text class="hs" x="140.5" y="386.7">&lt;Node&gt;</text>
<text class="c" y="390.05"><tspan x="122.7" class="b">depth</tspan><tspan x="122.7" dy="3.4" class="b">numchild</tspan><tspan x="122.7" dy="3.4" class="b">path</tspan></text>
<text class="c" y="390.05"><tspan x="140.5">PositiveIntegerField</tspan><tspan x="140.5" dy="3.4">PositiveIntegerField</tspan><tspan x="140.5" dy="3.4">CharField</tspan></text>
</g>
<g id="n-node">
<rect class="hd" x="136" y="419" width="9.7" height="4.3"/><text class="ht" x="140.85" y="421.9" style="font-size:1.8px">Node</text>
</g>
<g id="n-permission">
<rect class="hd" x="184.3" y="381.7" width="40" height="3.3"/><rect class="bd" x="184.3" y="385" width="40" height="14.3"/>
<text class="ht" x="204.3" y="384">Permission</text>
<text class="c" y="387.68"><tspan x="185.3" class="b">id</tspan><tspan x="185.3" dy="3.575" class="b">content_type</tspan><tspan x="185.3" dy="3.575" class="b">codename</tspan><tspan x="185.3" dy="3.575" class="b">name</tspan></text>
<text class="c" y="387.68"><tspan x="204.5">AutoField</tspan><tspan x="204.5" dy="3.575">ForeignKey (id)</tspan><tspan x="204.5" dy="3.575">CharField</tspan><tspan x="204.5" dy="3.575">CharField</tspan></text>
</g>
<g id="n-contenttype">
<rect class="hd" x="224.3" y="414" width="30.7" height="3.3"/><rect class="bd" x="224.3" y="417.3" width="30.7" height="10.2"/>
<text class="ht" x="239.65" y="416.3">ContentType</text>
<text class="c" y="419.85"><tspan x="225.3" class="b">id</tspan><tspan x="225.3" dy="3.4" class="b">app_label</tspan><tspan x="225.3" dy="3.4" class="b">model</tspan></text>
<text class="c" y="419.85"><tspan x="240">AutoField</tspan><tspan x="240" dy="3.4">CharField</tspan><tspan x="240" dy="3.4">CharField</tspan></text>
</g>
</svg>
